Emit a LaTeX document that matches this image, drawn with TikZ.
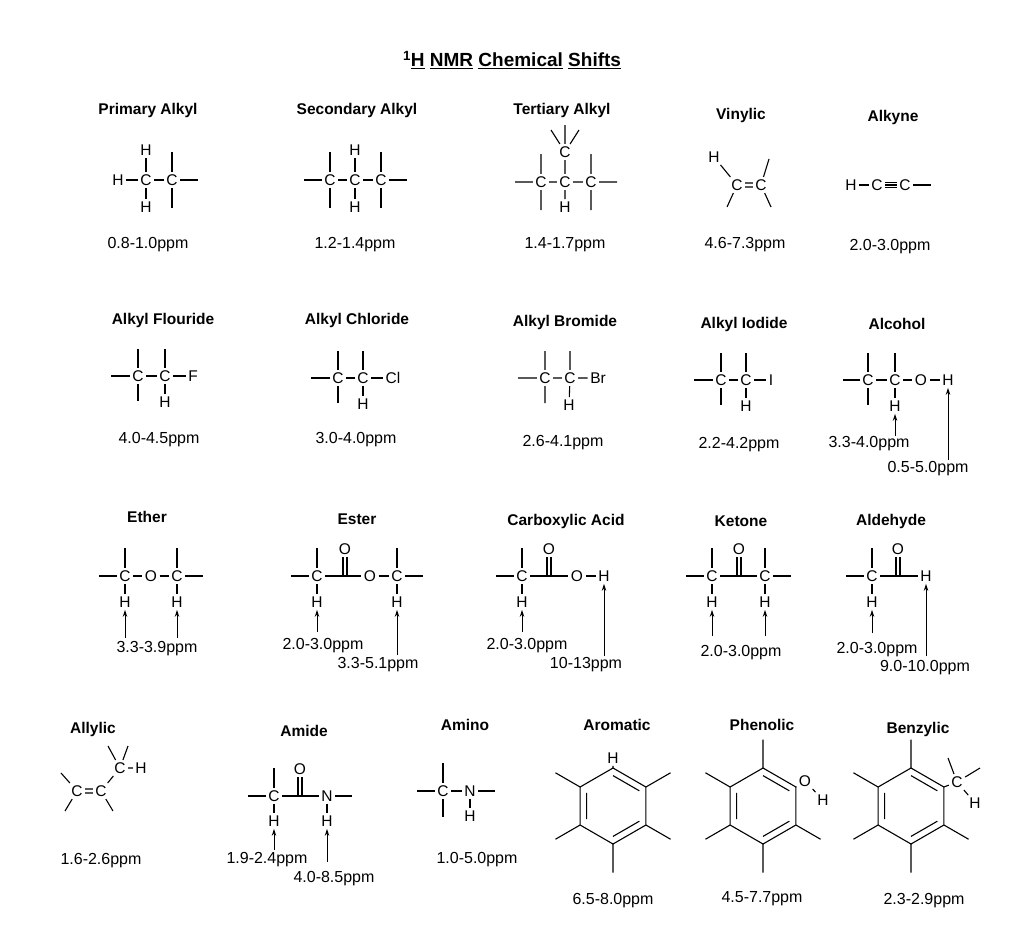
\documentclass[tikz,border=0pt]{standalone}
\usepackage{fontspec}
\setmainfont{Liberation Sans}
\usetikzlibrary{arrows.meta,calc}
\tikzset{
 atm/.style={font=\fontsize{15.5}{15.5}\selectfont, inner sep=2pt},
 ttl/.style={font=\bfseries\fontsize{15.5}{15.5}\selectfont},
 ppm/.style={font=\fontsize{16}{16}\selectfont},
 arr/.style={-{Stealth[length=7pt,width=4.5pt]}, line width=1pt},
 every path/.style={line width=1.1pt}
}
\newcommand\benz[3]{%
 \foreach \i/\a in {1/-90,2/-30,3/30,4/90,5/150,6/210}{\coordinate (#1\i) at ($(#2,#3)+(\a:38)$);}
 \coordinate (#1c) at (#2,#3);
 \draw (#11)--(#12)--(#13)--(#14)--(#15)--(#16)--cycle;
 \draw[shorten <=2pt, shorten >=2pt] ($(#1c)!0.8!(#11)$)--($(#1c)!0.8!(#12)$) ($(#1c)!0.8!(#13)$)--($(#1c)!0.8!(#14)$) ($(#1c)!0.8!(#15)$)--($(#1c)!0.8!(#16)$);
}
\begin{document}
\begin{tikzpicture}[x=1pt,y=-1pt]
\useasboundingbox[fill=white] (0,0) rectangle (1024,942);
\node[font=\bfseries\fontsize{19}{19}\selectfont] (title) at (512,60) {\textsuperscript{1}\underline{H} \underline{NMR} \underline{Chemical} \underline{Shifts}};
% ---------- Row 1
\node[ttl] (t1) at (148,110) {Primary Alkyl};
\node[atm] (pa1) at (118,180){H}; \node[atm] (pa2) at (146,180){C}; \node[atm] (pa3) at (172,180){C};
\node[atm] (pa4) at (146,150){H}; \node[atm] (pa5) at (146,207){H};
\draw (pa1)--(pa2) (pa2)--(pa3) (pa2)--(pa4) (pa2)--(pa5) (pa3)--++(26,0) (pa3)--++(0,-28) (pa3)--++(0,28);
\node[ppm] (p1) at (148,245) {0.8-1.0ppm};

\node[ttl] (t2) at (357,110) {Secondary Alkyl};
\node[atm] (sa1) at (330,180){C}; \node[atm] (sa2) at (355,180){C}; \node[atm] (sa3) at (381,180){C};
\node[atm] (sa4) at (355,150){H}; \node[atm] (sa5) at (355,207){H};
\draw (sa1)--(sa2) (sa2)--(sa3) (sa2)--(sa4) (sa2)--(sa5) (sa1)--++(-26,0) (sa3)--++(26,0)
 (sa1)--++(0,-28) (sa1)--++(0,28) (sa3)--++(0,-28) (sa3)--++(0,28);
\node[ppm] (p2) at (355,245) {1.2-1.4ppm};

\node[ttl] (t3) at (562,110) {Tertiary Alkyl};
\node[atm] (ta1) at (541,182){C}; \node[atm] (ta2) at (565,182){C}; \node[atm] (ta3) at (591,182){C};
\node[atm] (ta4) at (565,152){C}; \node[atm] (ta5) at (565,207){H};
\draw (ta1)--(ta2) (ta2)--(ta3) (ta2)--(ta4) (ta2)--(ta5) (ta1)--++(-26,0) (ta3)--++(26,0)
 (ta1)--++(0,-28) (ta1)--++(0,28) (ta3)--++(0,-28) (ta3)--++(0,28)
 (ta4)--++(-14,-22) (ta4)--++(0,-27) (ta4)--++(14,-22);
\node[ppm] (p3) at (565,245) {1.4-1.7ppm};

\node[ttl] (t4) at (741,115) {Vinylic};
\node[atm] (va1) at (737,185){C}; \node[atm] (va2) at (761,185){C}; \node[atm] (va3) at (714,157){H};
\draw ([yshift=2pt]va1.east)--([yshift=2pt]va2.west) ([yshift=-2pt]va1.east)--([yshift=-2pt]va2.west)
 (va1)--(va3) (va1)--++(-10,22) (va2)--++(8,-26) (va2)--++(10,22);
\node[ppm] (p4) at (745,245) {4.6-7.3ppm};

\node[ttl] (t5) at (893,117) {Alkyne};
\node[atm] (ak1) at (851,185){H}; \node[atm] (ak2) at (877,185){C}; \node[atm] (ak3) at (905,185){C};
\draw (ak1)--(ak2) (ak2.east)--(ak3.west) ([yshift=2.5pt]ak2.east)--([yshift=2.5pt]ak3.west) ([yshift=-2.5pt]ak2.east)--([yshift=-2.5pt]ak3.west) (ak3)--++(26,0);
\node[ppm] (p5) at (890,247) {2.0-3.0ppm};

% ---------- Row 2
\node[ttl] (t6) at (163,320) {Alkyl Flouride};
\node[atm] (fa1) at (138,376){C}; \node[atm] (fa2) at (165,376){C}; \node[atm] (fa3) at (193,376){F}; \node[atm] (fa4) at (165,402){H};
\draw (fa1)--(fa2) (fa2)--(fa3) (fa2)--(fa4) (fa1)--++(-27,0) (fa1)--++(0,-27) (fa1)--++(0,25) (fa2)--++(0,-27);
\node[ppm] (p6) at (159,440) {4.0-4.5ppm};

\node[ttl] (t7) at (357,320) {Alkyl Chloride};
\node[atm] (ca1) at (338,378){C}; \node[atm] (ca2) at (363,378){C}; \node[atm] (ca3) at (393,378){Cl}; \node[atm] (ca4) at (363,404){H};
\draw (ca1)--(ca2) (ca2)--(ca3) (ca2)--(ca4) (ca1)--++(-27,0) (ca1)--++(0,-27) (ca1)--++(0,25) (ca2)--++(0,-27);
\node[ppm] (p7) at (356,440) {3.0-4.0ppm};

\node[ttl] (t8) at (565,322) {Alkyl Bromide};
\node[atm] (ba1) at (545,378){C}; \node[atm] (ba2) at (570,378){C}; \node[atm] (ba3) at (598,378){Br}; \node[atm] (ba4) at (569,405){H};
\draw (ba1)--(ba2) (ba2)--(ba3) (ba2)--(ba4) (ba1)--++(-27,0) (ba1)--++(0,-27) (ba1)--++(0,25) (ba2)--++(0,-27);
\node[ppm] (p8) at (563,443) {2.6-4.1ppm};

\node[ttl] (t9) at (744,324) {Alkyl Iodide};
\node[atm] (ia1) at (721,380){C}; \node[atm] (ia2) at (746,380){C}; \node[atm] (ia3) at (771,380){I}; \node[atm] (ia4) at (746,406){H};
\draw (ia1)--(ia2) (ia2)--(ia3) (ia2)--(ia4) (ia1)--++(-27,0) (ia1)--++(0,-27) (ia1)--++(0,25) (ia2)--++(0,-27);
\node[ppm] (p9) at (739,445) {2.2-4.2ppm};

\node[ttl] (t10) at (897,324) {Alcohol};
\node[atm] (al1) at (868,380){C}; \node[atm] (al2) at (895,380){C}; \node[atm] (al3) at (921,380){O}; \node[atm] (al4) at (948,380){H}; \node[atm] (al5) at (895,406){H};
\draw (al1)--(al2) (al2)--(al3) (al3)--(al4) (al2)--(al5) (al1)--++(-25,0) (al1)--++(0,-27) (al1)--++(0,25) (al2)--++(0,-27);
\coordinate (al6) at (895,436); \coordinate (al7) at (948,460);
\draw[arr] (al6)--(al5); \draw[arr] (al7)--(al4);
\node[ppm] (p10) at (869,444) {3.3-4.0ppm};
\node[ppm] (p11) at (928,469) {0.5-5.0ppm};

% ---------- Row 3
\node[ttl] (t11) at (147,517) {Ether};
\node[atm] (et1) at (125,576){C}; \node[atm] (et2) at (151,576){O}; \node[atm] (et3) at (177,576){C};
\node[atm] (et4) at (125,602){H}; \node[atm] (et5) at (177,602){H};
\draw (et1)--(et2) (et2)--(et3) (et1)--(et4) (et3)--(et5) (et1)--++(-26,0) (et3)--++(26,0) (et1)--++(0,-28) (et3)--++(0,-28);
\coordinate (et6) at (125,638); \coordinate (et7) at (177,638);
\draw[arr] (et6)--(et4); \draw[arr] (et7)--(et5);
\node[ppm] (p12) at (157,649) {3.3-3.9ppm};

\node[ttl] (t12) at (357,519) {Ester};
\node[atm] (es1) at (317,576){C}; \coordinate (es2) at (345,576); \node[atm] (es3) at (345,549){O}; \node[atm] (es4) at (370,576){O}; \node[atm] (es5) at (397,576){C};
\node[atm] (es6) at (317,602){H}; \node[atm] (es7) at (397,602){H};
\draw (es1)--(es2) (es2)--(es4) (es4)--(es5) (es1)--(es6) (es5)--(es7) (es1)--++(-26,0) (es5)--++(26,0) (es1)--++(0,-28) (es5)--++(0,-28)
 ([xshift=-2pt]es2)--([xshift=-2pt]es3.south) ([xshift=2pt]es2)--([xshift=2pt]es3.south);
\coordinate (es8) at (317,632); \coordinate (es9) at (397,655);
\draw[arr] (es8)--(es6); \draw[arr] (es9)--(es7);
\node[ppm] (p13) at (323,646) {2.0-3.0ppm};
\node[ppm] (p14) at (378,665) {3.3-5.1ppm};

\node[ttl] (t13) at (566,521) {Carboxylic Acid};
\node[atm] (cx1) at (522,576){C}; \coordinate (cx2) at (549,576); \node[atm] (cx3) at (549,549){O}; \node[atm] (cx4) at (577,576){O}; \node[atm] (cx5) at (604,576){H};
\node[atm] (cx6) at (522,602){H};
\draw (cx1)--(cx2) (cx2)--(cx4) (cx4)--(cx5) (cx1)--(cx6) (cx1)--++(-26,0) (cx1)--++(0,-28)
 ([xshift=-2pt]cx2)--([xshift=-2pt]cx3.south) ([xshift=2pt]cx2)--([xshift=2pt]cx3.south);
\coordinate (cx7) at (522,632); \coordinate (cx8) at (604,656);
\draw[arr] (cx7)--(cx6); \draw[arr] (cx8)--(cx5);
\node[ppm] (p15) at (527,646) {2.0-3.0ppm};
\node[ppm] (p16) at (586,665) {10-13ppm};

\node[ttl] (t14) at (741,521) {Ketone};
\node[atm] (kt1) at (712,576){C}; \coordinate (kt2) at (739,576); \node[atm] (kt3) at (739,549){O}; \node[atm] (kt4) at (765,576){C};
\node[atm] (kt5) at (712,602){H}; \node[atm] (kt6) at (765,602){H};
\draw (kt1)--(kt2) (kt2)--(kt4) (kt1)--(kt5) (kt4)--(kt6) (kt1)--++(-26,0) (kt4)--++(26,0) (kt1)--++(0,-28) (kt4)--++(0,-28)
 ([xshift=-2pt]kt2)--([xshift=-2pt]kt3.south) ([xshift=2pt]kt2)--([xshift=2pt]kt3.south);
\coordinate (kt7) at (712,636); \coordinate (kt8) at (765,636);
\draw[arr] (kt7)--(kt5); \draw[arr] (kt8)--(kt6);
\node[ppm] (p17) at (741,653) {2.0-3.0ppm};

\node[ttl] (t15) at (891,521) {Aldehyde};
\node[atm] (ad1) at (872,576){C}; \coordinate (ad2) at (898,576); \node[atm] (ad3) at (898,549){O}; \node[atm] (ad4) at (926,576){H};
\node[atm] (ad5) at (872,602){H};
\draw (ad1)--(ad2) (ad2)--(ad4) (ad1)--(ad5) (ad1)--++(-26,0) (ad1)--++(0,-28)
 ([xshift=-2pt]ad2)--([xshift=-2pt]ad3.south) ([xshift=2pt]ad2)--([xshift=2pt]ad3.south);
\coordinate (ad6) at (872,633); \coordinate (ad7) at (926,656);
\draw[arr] (ad6)--(ad5); \draw[arr] (ad7)--(ad4);
\node[ppm] (p18) at (877,650) {2.0-3.0ppm};
\node[ppm] (p19) at (925,668) {9.0-10.0ppm};

% ---------- Row 4
\node[ttl] (t16) at (93,729) {Allylic};
\node[atm] (ay1) at (77,791){C}; \node[atm] (ay2) at (101,791){C}; \node[atm] (ay3) at (120,768){C}; \node[atm] (ay4) at (141,768){H};
\draw ([yshift=2pt]ay1.east)--([yshift=2pt]ay2.west) ([yshift=-2pt]ay1.east)--([yshift=-2pt]ay2.west)
 (ay2)--(ay3) (ay3)--(ay4) (ay1)--++(-16,-18) (ay1)--++(-12,20) (ay2)--++(12,20) (ay3)--++(-12,-22) (ay3)--++(8,-22);
\node[ppm] (p20) at (101,861) {1.6-2.6ppm};

\node[ttl] (t17) at (304,731) {Amide};
\node[atm] (am1) at (274,796){C}; \coordinate (am2) at (300,796); \node[atm] (am3) at (300,769){O}; \node[atm] (am4) at (327,796){N};
\node[atm] (am5) at (274,821){H}; \node[atm] (am6) at (327,821){H};
\draw (am1)--(am2) (am2)--(am4) (am1)--(am5) (am4)--(am6) (am1)--++(-26,0) (am4)--++(25,0) (am1)--++(0,-28)
 ([xshift=-2pt]am2)--([xshift=-2pt]am3.south) ([xshift=2pt]am2)--([xshift=2pt]am3.south);
\coordinate (am7) at (274,850); \coordinate (am8) at (327,862);
\draw[arr] (am7)--(am5); \draw[arr] (am8)--(am6);
\node[ppm] (p21) at (267,860) {1.9-2.4ppm};
\node[ppm] (p22) at (334,879) {4.0-8.5ppm};

\node[ttl] (t18) at (465,725) {Amino};
\node[atm] (an1) at (443,791){C}; \node[atm] (an2) at (470,791){N}; \node[atm] (an3) at (470,816){H};
\draw (an1)--(an2) (an2)--(an3) (an1)--++(-26,0) (an2)--++(25,0) (an1)--++(0,-28) (an1)--++(0,26);
\node[ppm] (p23) at (477,860) {1.0-5.0ppm};

\node[ttl] (t19) at (617,725) {Aromatic};
\benz{ar}{613}{806}
\node[atm] (ar7) at (613,758){H};
\draw (ar1)--(ar7) (ar2)--($(arc)!1.75!(ar2)$) (ar3)--($(arc)!1.75!(ar3)$) (ar4)--($(arc)!1.75!(ar4)$) (ar5)--($(arc)!1.75!(ar5)$) (ar6)--($(arc)!1.75!(ar6)$);
\node[ppm] (p24) at (613,901) {6.5-8.0ppm};

\node[ttl] (t20) at (762,725) {Phenolic};
\benz{ph}{763}{806}
\node[atm] (ph7) at (805,781){O}; \node[atm] (ph8) at (823,800){H};
\draw (ph2)--(ph7) (ph7)--(ph8) (ph1)--($(phc)!1.75!(ph1)$) (ph3)--($(phc)!1.75!(ph3)$) (ph4)--($(phc)!1.75!(ph4)$) (ph5)--($(phc)!1.75!(ph5)$) (ph6)--($(phc)!1.75!(ph6)$);
\node[ppm] (p25) at (762,899) {4.5-7.7ppm};

\node[ttl] (t21) at (918,729) {Benzylic};
\benz{bz}{911}{806}
\node[atm] (bz7) at (957,782){C}; \node[atm] (bz8) at (975,803){H};
\draw (bz2)--(bz7) (bz7)--(bz8) (bz7)--++(-9,-24) (bz7)--++(23,-14) (bz1)--($(bzc)!1.75!(bz1)$) (bz3)--($(bzc)!1.75!(bz3)$) (bz4)--($(bzc)!1.75!(bz4)$) (bz5)--($(bzc)!1.75!(bz5)$) (bz6)--($(bzc)!1.75!(bz6)$);
\node[ppm] (p26) at (924,901) {2.3-2.9ppm};
\end{tikzpicture}
\end{document}
